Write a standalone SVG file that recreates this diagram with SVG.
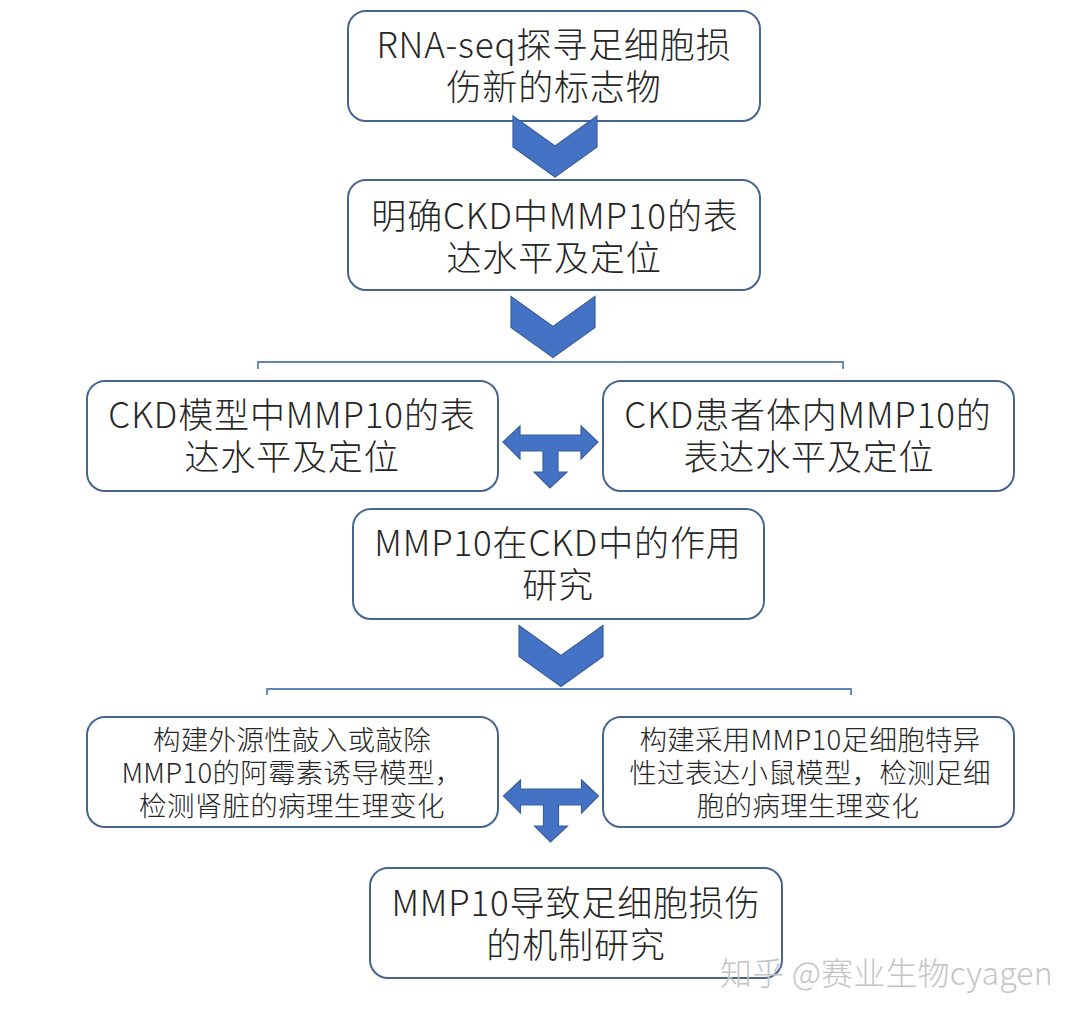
<svg xmlns="http://www.w3.org/2000/svg" width="1080" height="1021" viewBox="0 0 1080 1021">
<style>
.b{fill:#fff;stroke:#47658f;stroke-width:2}
.a{fill:#4472c4;stroke:#3b5f9e;stroke-width:1.2}
.br{fill:none;stroke:#5f86b5;stroke-width:1.8}
text{font-family:"Noto Sans CJK SC","Noto Sans",sans-serif;fill:#262626;text-anchor:middle;font-weight:300}
.l{font-size:35px;letter-spacing:.85px}
.s{font-size:27.5px;letter-spacing:.3px}
.w{font-size:32px;fill:#c4c4c4;text-anchor:start;letter-spacing:.2px}
</style>
<defs>
<path id="chev" d="M-42 0L0 30L42 0V31L0 61L-42 31Z" class="a"/>
<path id="tee" d="M503 442L520 426V435H581V426L598 442L581 459V451H558V472H567L550 488L534 472H543V451H520V459Z" class="a"/>
</defs>
<rect width="1080" height="1021" fill="#fff"/>
<g id="n1"><rect class="b" x="348" y="11" width="412" height="110" rx="18"/><text class="l" x="554" y="58">RNA-seq探寻足细胞损</text><text class="l" x="554" y="100">伤新的标志物</text></g>
<g id="n2"><rect class="b" x="348" y="180" width="412" height="110" rx="18"/><text class="l" x="555" y="229">明确CKD中MMP10的表</text><text class="l" x="554" y="271">达水平及定位</text></g>
<g id="n3"><rect class="b" x="87" y="381" width="411" height="110" rx="18"/><text class="l" x="292" y="428">CKD模型中MMP10的表</text><text class="l" x="292" y="470">达水平及定位</text></g>
<g id="n4"><rect class="b" x="603" y="381" width="411" height="110" rx="18"/><text class="l" x="808" y="428">CKD患者体内MMP10的</text><text class="l" x="809" y="470">表达水平及定位</text></g>
<g id="n5"><rect class="b" x="353" y="509" width="411" height="110" rx="18"/><text class="l" x="558" y="556">MMP10在CKD中的作用</text><text class="l" x="558" y="598">研究</text></g>
<g id="n6"><rect class="b" x="87" y="717" width="411" height="110" rx="18"/><text class="s" x="292" y="750">构建外源性敲入或敲除</text><text class="s" x="292" y="783">MMP10的阿霉素诱导模型，</text><text class="s" x="292" y="816">检测肾脏的病理生理变化</text></g>
<g id="n7"><rect class="b" x="603" y="717" width="411" height="110" rx="18"/><text class="s" x="810" y="750">构建采用MMP10足细胞特异</text><text class="s" x="810" y="783">性过表达小鼠模型，检测足细</text><text class="s" x="808" y="816">胞的病理生理变化</text></g>
<g id="n8"><rect class="b" x="370" y="868" width="412" height="110" rx="18"/><text class="l" x="576" y="916">MMP10导致足细胞损伤</text><text class="l" x="576" y="958">的机制研究</text></g>
<g id="connectors">
<use href="#chev" x="555" y="116"/>
<use href="#chev" x="553" y="296.5"/>
<path class="br" d="M258 369V362H843V369"/>
<use href="#tee"/>
<use href="#chev" x="561" y="625.5"/>
<path class="br" d="M267 695V689H851V695"/>
<use href="#tee" x="0.5" y="354"/>
</g>
<text class="w" x="720" y="985">知乎 @赛业生物cyagen</text>
</svg>
